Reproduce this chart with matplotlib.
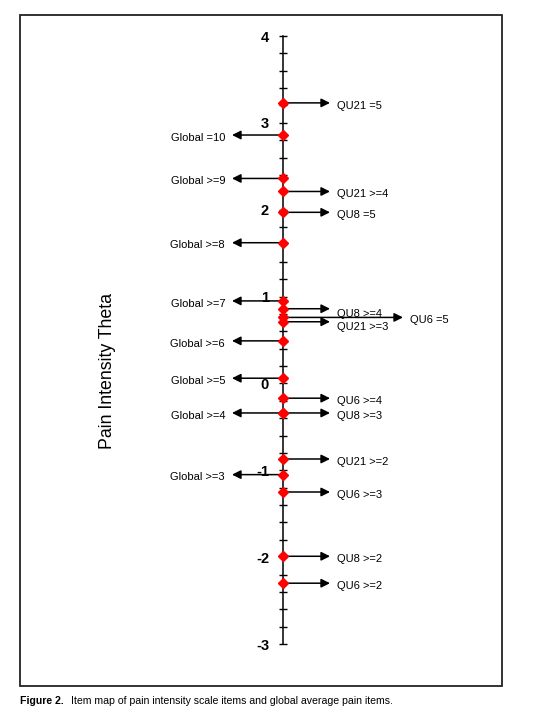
import matplotlib
matplotlib.use("Agg")
import matplotlib.pyplot as plt
from matplotlib.patches import Rectangle

# item thresholds on the theta scale
qu_labels = ["QU21 =5", "QU21 >=4", "QU8 =5", "QU8 >=4", "QU6 =5", "QU21 >=3",
             "QU6 >=4", "QU8 >=3", "QU21 >=2", "QU6 >=3", "QU8 >=2", "QU6 >=2"]
qu_theta = [3.23, 2.21, 1.97, 0.86, 0.76, 0.71,
            -0.17, -0.34, -0.87, -1.25, -1.99, -2.30]

global_labels = ["Global =10", "Global >=9", "Global >=8", "Global >=7",
                 "Global >=6", "Global >=5", "Global >=4", "Global >=3"]
global_theta = [2.86, 2.36, 1.62, 0.95, 0.49, 0.06, -0.34, -1.05]

y_ticks = [-3, -2, -1, 0, 1, 2, 3, 4]

plt.rcParams["font.family"] = ["Liberation Sans", "DejaVu Sans"]
plt.rcParams["axes.unicode_minus"] = False

W, H = 539, 721
fig = plt.figure(figsize=(W / 100, H / 100), dpi=100)
ax = fig.add_axes([20 / W, 1 - 644 / H, 482 / W, 608 / H])

# x is in pixel-like units, axis line at 0
ax.set_xlim(-263, 219)
ax.set_ylim(-3, 4)
for s in ["top", "right", "bottom"]:
    ax.spines[s].set_visible(False)
ax.spines["left"].set_position(("data", 0))
ax.spines["left"].set_linewidth(1.1)
ax.set_xticks([])
ax.set_yticks(y_ticks)
ax.set_yticks([v / 5 for v in range(-15, 21)], minor=True)
ax.tick_params(axis="y", which="both", direction="inout", length=6, width=1.0, pad=7)
for lab in ax.get_yticklabels():
    lab.set_fontweight("bold")
    lab.set_fontsize(10.5)

arrow = dict(arrowstyle="-|>", color="black", lw=1.1, mutation_scale=13,
             shrinkA=0, shrinkB=0)

# right-pointing arrows for the scale items
for lab, y in zip(qu_labels, qu_theta):
    tip = 120 if lab == "QU6 =5" else 47
    dy = -2
    if lab in ("QU8 >=4", "QU21 >=3"):
        dy = -4
    ax.annotate("", xy=(tip, y), xytext=(0, y), arrowprops=arrow, zorder=2)
    ax.annotate(lab, xy=(tip, y), xytext=(5, dy), textcoords="offset points",
                ha="left", va="center", fontsize=8)

# left-pointing arrows for the global items
for lab, y in zip(global_labels, global_theta):
    ax.annotate("", xy=(-51, y), xytext=(0, y), arrowprops=arrow, zorder=2)
    ax.annotate(lab, xy=(-51, y), xytext=(-5, -2), textcoords="offset points",
                ha="right", va="center", fontsize=8)

ax.plot([0] * len(qu_theta), qu_theta, "D", color="#ff0000", ms=5, zorder=3, clip_on=False)
ax.plot([0] * len(global_theta), global_theta, "D", color="#ff0000", ms=5, zorder=3, clip_on=False)

fig.text(107 / W, 1 - 371 / H, "Pain Intensity Theta", rotation=90,
         ha="center", va="center", fontsize=12.8)

# frame and caption
fig.patches.append(Rectangle((20 / W, 1 - 686 / H), 482 / W, 671 / H,
                             transform=fig.transFigure, fill=False,
                             edgecolor="#222222", lw=1.3))
cap_font = ["Liberation Sans Narrow", "Liberation Sans", "DejaVu Sans"]
fig.text(20 / W, 1 - 701 / H, "Figure 2.", fontweight="bold", fontsize=7.6,
         family=cap_font, va="center", ha="left")
fig.text(71 / W, 1 - 701 / H,
         "Item map of pain intensity scale items and global average pain items.",
         fontsize=7.6, family=cap_font, va="center", ha="left")

fig.savefig("out.png", dpi=100)
